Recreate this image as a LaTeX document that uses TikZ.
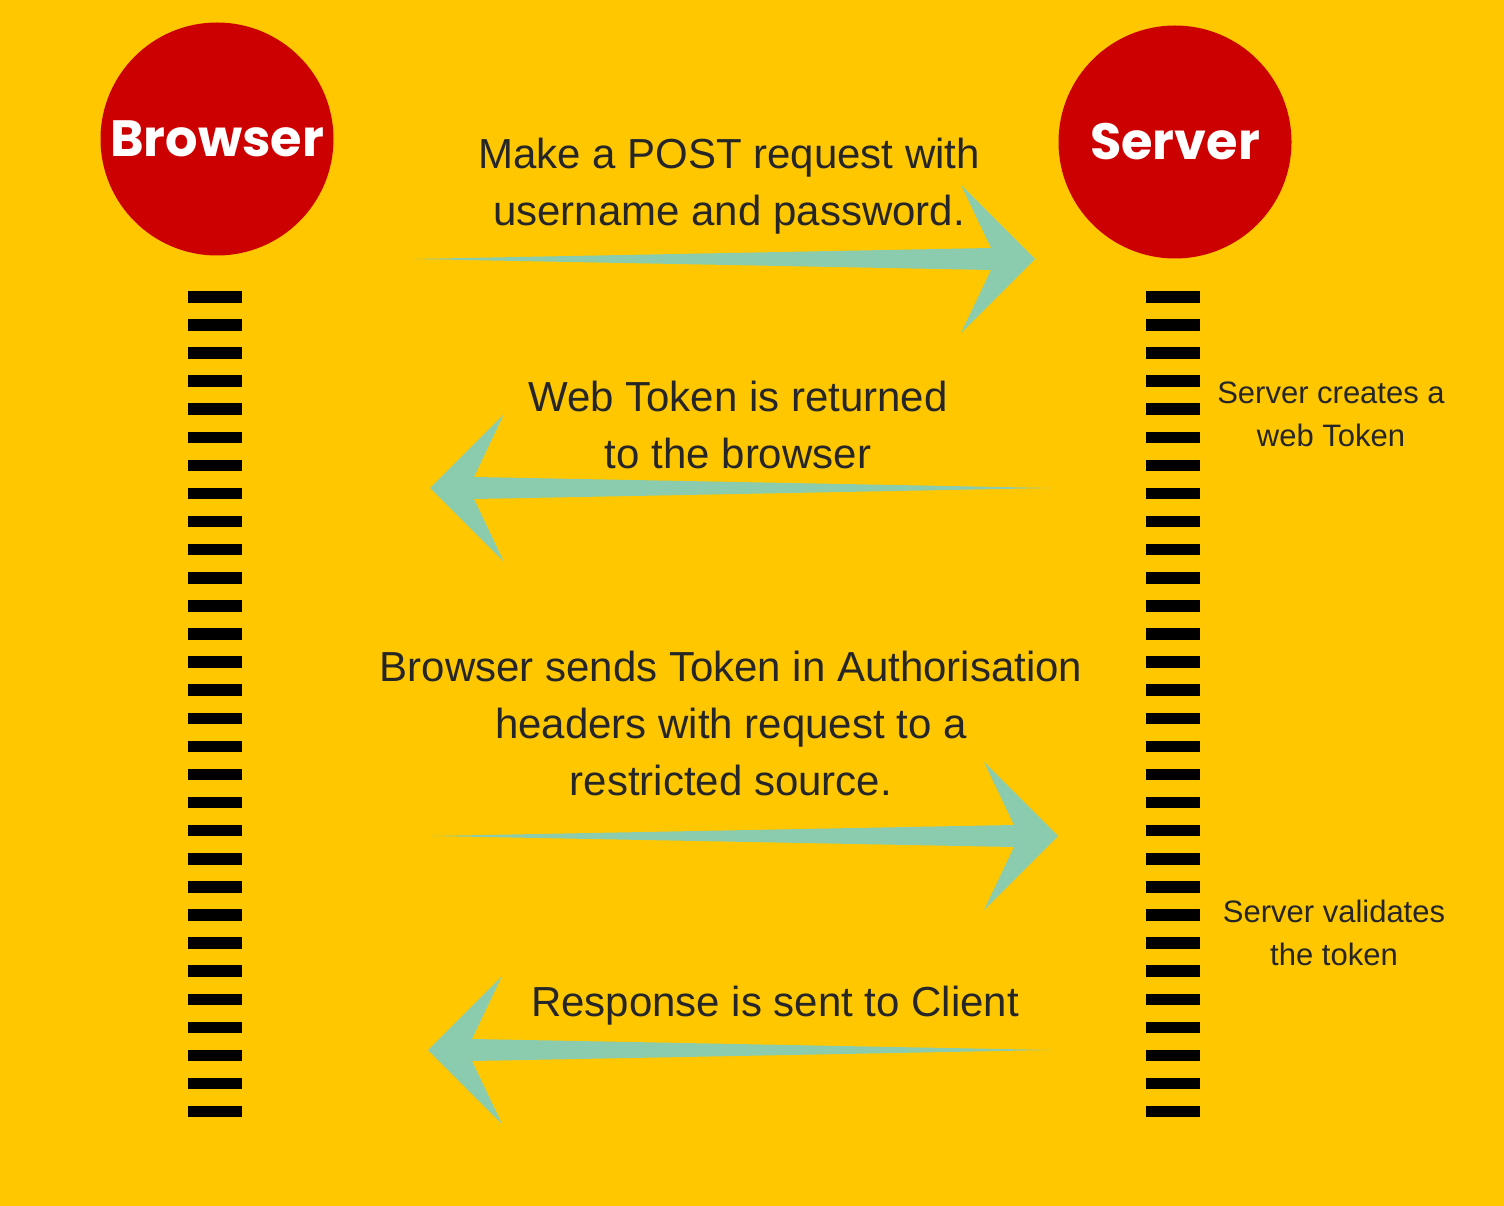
\documentclass[tikz,border=0pt]{standalone}
\usepackage{fontspec}
\setmainfont{Liberation Sans}
\newfontfamily\circfont{Poppins}
\definecolor{bgyellow}{HTML}{FFC700}
\definecolor{circred}{HTML}{CC0000}
\definecolor{arrowteal}{HTML}{8CCCAE}
\definecolor{txtdark}{HTML}{262626}
\tikzset{
  actor/.style={circle, fill=circred, minimum size=233pt, inner sep=0pt,
    text=white, font=\circfont\bfseries\fontsize{51}{60}\selectfont},
  msg/.style={anchor=base, align=center, inner sep=0pt, text=txtdark,
    font=\fontsize{42}{57}\selectfont},
  note/.style={anchor=base, align=center, inner sep=0pt, text=txtdark,
    font=\fontsize{31}{43}\selectfont},
  bar/.style={fill=black},
  fatarrow/.style={fill=arrowteal}
}
\newcommand{\RightFat}[3]{% tail x, tip x, y
  \fill[fatarrow] (#1,#3) -- (#2-44,#3-11) -- (#2-74,#3-74) -- (#2,#3)
    -- (#2-74,#3+74) -- (#2-44,#3+11) -- cycle;}
\newcommand{\LeftFat}[3]{% tail x, tip x, y
  \fill[fatarrow] (#1,#3) -- (#2+44,#3-11) -- (#2+74,#3-74) -- (#2,#3)
    -- (#2+74,#3+74) -- (#2+44,#3+11) -- cycle;}
\begin{document}
\begin{tikzpicture}[x=1pt,y=-1pt]
\fill[bgyellow] (0,0) rectangle (1504,1206);
\useasboundingbox (0,0) rectangle (1504,1206);

% lifelines
\foreach \i in {0,...,29}{
  \fill[bar] (188,{291+\i*28.1}) rectangle (242,{302.5+\i*28.1});
  \fill[bar] (1146,{291+\i*28.1}) rectangle (1200,{302.5+\i*28.1});
}

% actors
\node[actor] (browser) at (217,139) {Browser};
\node[actor] (server) at (1175,142) {Server};

% arrows
\RightFat{413}{1035}{259}
\LeftFat{1052}{430}{488}
\RightFat{432}{1058}{836}
\LeftFat{1052}{428}{1050}

% messages (anchor = baseline of last line)
\node[msg] (m1) at (729,226) {Make a POST request with\\username and password.};
\node[msg] (m2) at (738,468) {Web Token is returned\\to the browser};
\node[msg] (m3) at (731,795) {Browser sends Token in Authorisation\\headers with request to a\\restricted source.};
\node[msg] (m4) at (775,1016) {Response is sent to Client};

% notes
\node[note] (n1) at (1331,446) {Server creates a\\web Token};
\node[note] (n2) at (1334,965) {Server validates\\the token};
\end{tikzpicture}
\end{document}
